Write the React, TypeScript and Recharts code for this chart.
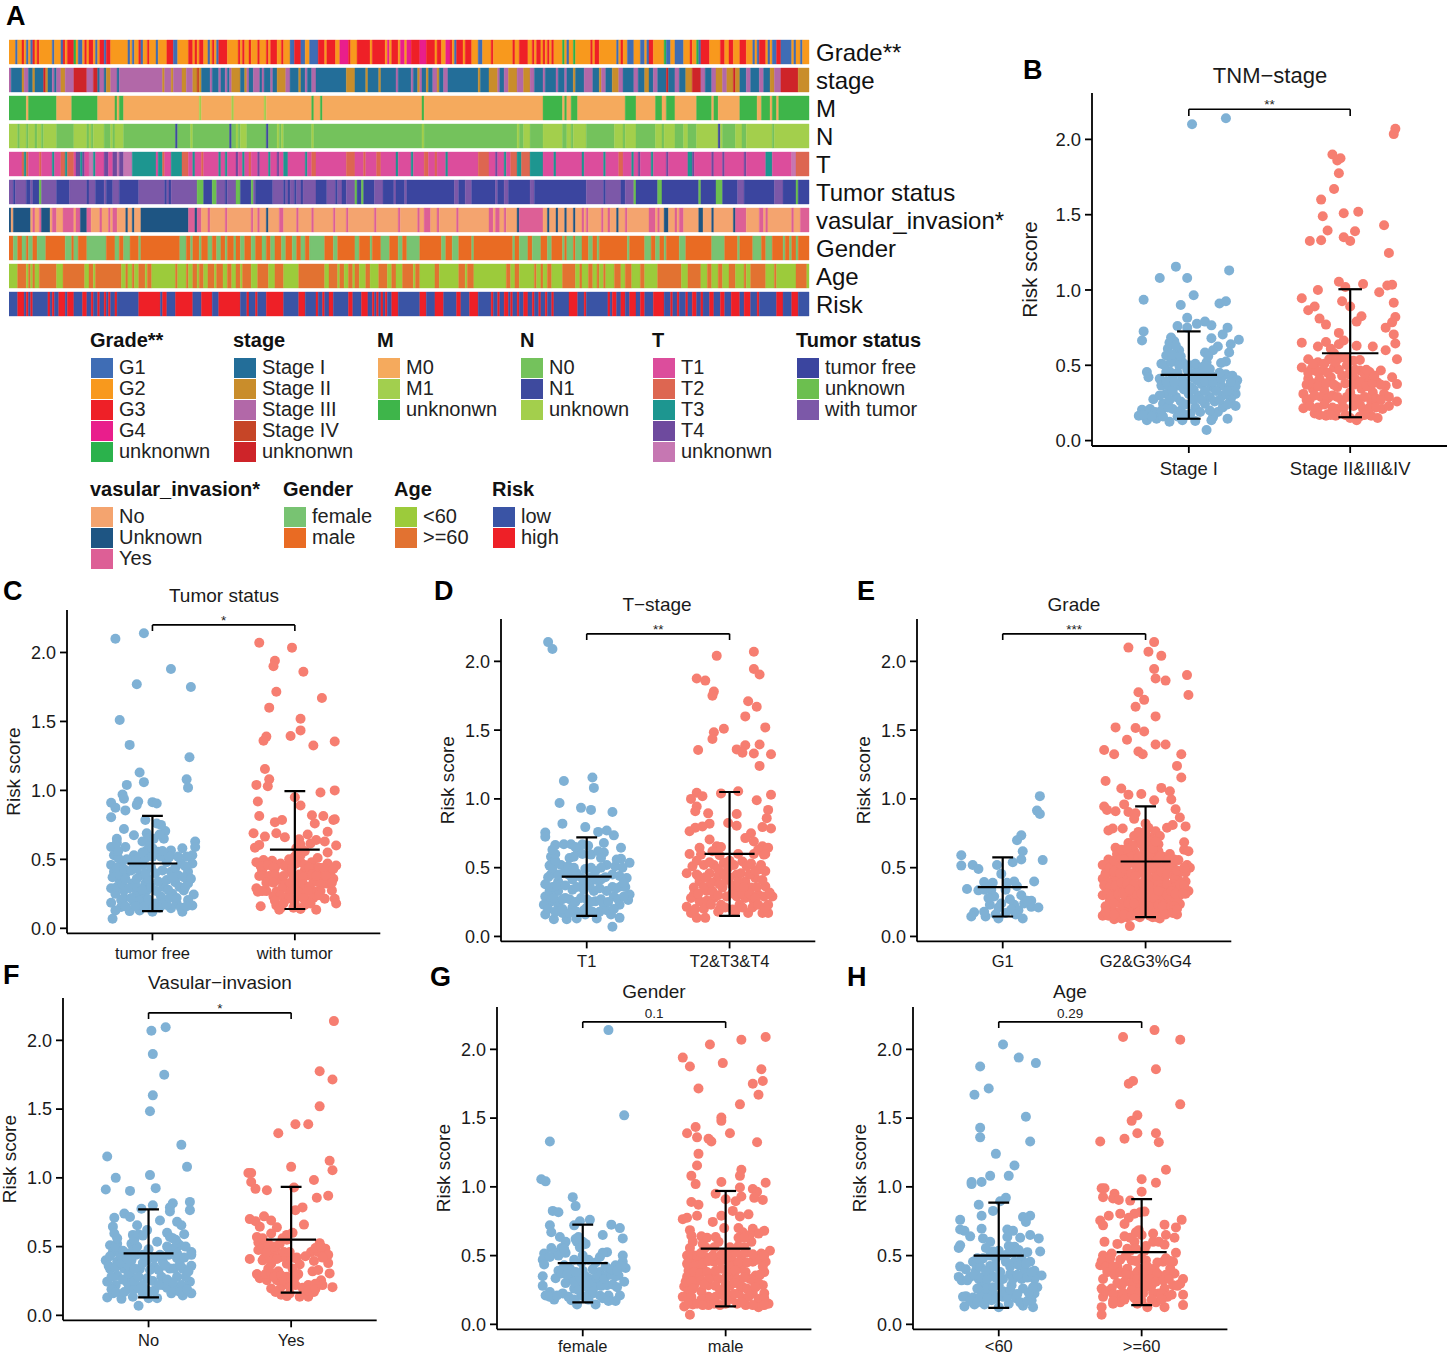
import {
  BarChart,
  Bar,
  Cell,
  XAxis,
  YAxis,
  ScatterChart,
  Scatter,
  ReferenceDot,
} from "recharts";

const FONT = "'Liberation Sans', Arial, sans-serif";
const BLUE = "#7FB1D5";
const SALMON = "#F67E71";

// ---------- heatmap: [class index, last sample of the run] ----------
const gradeRuns = [[1,3],[0,4],[1,6],[2,7],[1,8],[0,9],[1,10],[0,11],[2,12],[1,13],[2,14],[1,20],[0,21],[1,24],[0,25],[2,26],[1,27],[2,30],[4,31],[1,32],[0,34],[1,35],[2,36],[1,37],[2,39],[1,40],[0,41],[1,42],[2,44],[0,45],[2,47],[1,55],[0,56],[1,57],[0,58],[1,60],[2,61],[0,62],[1,64],[2,65],[1,68],[0,69],[1,73],[2,76],[0,78],[1,83],[2,85],[1,86],[2,87],[1,88],[2,90],[1,92],[0,93],[1,94],[2,95],[1,96],[0,97],[2,101],[1,106],[2,107],[1,108],[2,109],[1,111],[2,112],[1,115],[2,116],[1,119],[2,120],[1,121],[2,124],[1,126],[2,127],[1,130],[0,132],[2,135],[0,137],[1,139],[0,143],[2,146],[1,147],[2,151],[1,153],[3,157],[2,158],[1,161],[2,167],[1,168],[2,174],[1,175],[3,176],[1,177],[2,180],[1,181],[3,183],[1,184],[3,186],[2,190],[3,193],[2,197],[1,198],[2,200],[1,202],[3,204],[2,205],[1,206],[0,207],[2,210],[1,211],[2,214],[1,217],[0,219],[1,223],[2,224],[1,233],[2,234],[1,236],[2,240],[1,242],[2,243],[1,244],[2,246],[1,247],[2,248],[1,249],[2,250],[1,251],[2,252],[1,256],[4,257],[1,258],[0,259],[1,261],[4,262],[1,269],[2,270],[1,271],[2,273],[1,281],[0,282],[1,283],[2,284],[1,286],[0,289],[1,292],[0,294],[1,295],[0,296],[2,298],[1,303],[4,304],[0,306],[1,308],[0,312],[1,315],[2,316],[1,318],[4,319],[0,320],[2,324],[1,329],[2,331],[1,333],[2,335],[1,338],[2,341],[1,344],[0,345],[1,346],[0,347],[2,350],[1,351],[0,352],[1,353],[0,355],[2,357],[0,362],[1,363],[0,364],[1,366],[0,367],[1,370]];
const stageRuns = [[2,1],[0,6],[1,7],[2,9],[0,11],[1,12],[0,16],[4,17],[1,18],[0,20],[2,21],[0,22],[2,24],[1,26],[2,30],[4,36],[2,39],[4,41],[0,42],[2,44],[0,45],[1,47],[2,50],[0,51],[2,71],[1,72],[2,75],[1,76],[2,80],[1,82],[2,85],[1,87],[3,88],[1,89],[0,93],[2,94],[0,97],[2,98],[0,100],[2,101],[0,102],[2,103],[1,107],[0,109],[1,110],[2,111],[0,113],[2,116],[0,117],[2,118],[0,121],[2,122],[0,124],[1,128],[2,130],[0,134],[1,135],[0,137],[2,138],[0,140],[2,142],[0,156],[1,160],[0,165],[1,166],[0,171],[1,172],[0,179],[2,180],[0,186],[2,187],[0,189],[1,190],[2,191],[0,193],[1,194],[0,196],[2,198],[1,199],[0,201],[2,203],[0,217],[1,218],[0,222],[1,226],[2,227],[0,229],[2,231],[1,235],[2,238],[1,241],[2,243],[0,247],[2,248],[0,253],[2,254],[0,257],[2,258],[0,261],[1,262],[0,266],[2,270],[0,273],[1,274],[2,276],[0,279],[1,282],[2,284],[0,289],[2,291],[0,294],[1,296],[0,298],[2,300],[0,304],[4,305],[0,308],[2,310],[0,313],[1,316],[4,320],[2,322],[0,325],[2,327],[1,330],[2,332],[1,335],[4,336],[1,338],[0,341],[2,343],[0,347],[2,349],[0,352],[1,354],[2,357],[4,365],[1,370]];
const mRuns = [[2,8],[0,9],[2,22],[0,29],[2,41],[0,49],[2,50],[0,51],[2,53],[0,88],[1,89],[0,103],[1,104],[0,118],[1,119],[0,140],[2,141],[0,144],[2,145],[0,191],[2,192],[0,247],[2,256],[0,257],[2,258],[0,260],[2,263],[0,285],[2,290],[0,299],[2,302],[0,304],[2,308],[0,318],[2,325],[0,326],[2,328],[0,338],[2,346],[0,348],[2,352],[0,353],[2,355],[0,356],[2,370]];
const nRuns = [[2,4],[0,5],[2,8],[0,9],[2,12],[0,13],[2,15],[0,16],[2,22],[0,30],[2,36],[0,37],[2,38],[0,39],[2,44],[0,47],[2,48],[0,49],[2,53],[0,77],[1,78],[0,84],[2,85],[0,102],[1,103],[0,105],[2,106],[0,107],[2,110],[0,119],[1,120],[0,124],[2,125],[0,126],[2,127],[0,140],[2,141],[0,191],[2,192],[0,235],[2,236],[0,238],[2,241],[0,247],[2,256],[0,258],[2,260],[0,261],[2,267],[0,280],[2,284],[0,285],[2,290],[0,299],[2,302],[0,303],[2,308],[0,312],[2,314],[0,318],[2,328],[1,329],[2,330],[0,336],[2,339],[0,341],[2,353],[0,354],[2,370]];
const tRuns = [[0,6],[1,7],[2,8],[1,9],[0,14],[1,15],[0,20],[2,21],[0,24],[1,26],[2,27],[1,30],[0,31],[3,33],[2,34],[3,35],[0,37],[4,39],[2,40],[0,44],[3,46],[0,48],[3,50],[4,51],[3,53],[4,57],[2,68],[0,69],[2,71],[1,72],[0,75],[2,80],[1,83],[0,85],[2,86],[0,89],[1,90],[0,97],[2,98],[0,100],[2,101],[0,105],[3,106],[0,108],[2,109],[0,111],[1,112],[0,115],[3,116],[0,120],[2,121],[0,124],[3,125],[0,127],[2,129],[0,137],[2,138],[0,140],[1,142],[0,156],[1,160],[0,164],[1,165],[0,170],[1,172],[0,179],[2,180],[0,186],[2,187],[0,192],[1,194],[0,197],[1,198],[0,202],[2,203],[0,217],[1,222],[0,225],[3,226],[0,229],[2,230],[0,232],[1,235],[2,237],[1,241],[2,247],[0,252],[2,253],[0,265],[2,266],[0,275],[2,276],[0,282],[1,284],[0,288],[2,289],[0,291],[3,292],[0,297],[2,298],[0,304],[3,305],[0,314],[2,316],[3,317],[0,325],[3,326],[0,330],[3,331],[0,340],[3,341],[0,350],[2,353],[0,362],[4,364],[1,370]];
const statusRuns = [[2,2],[0,3],[2,8],[0,10],[2,11],[0,14],[1,15],[2,22],[0,28],[2,36],[0,37],[2,40],[0,44],[2,45],[0,48],[2,51],[0,60],[2,72],[0,73],[2,74],[0,75],[2,87],[1,90],[0,94],[1,96],[2,100],[0,101],[2,105],[1,107],[0,112],[1,113],[2,114],[0,122],[2,127],[0,128],[2,129],[0,130],[2,132],[0,133],[2,135],[0,136],[2,142],[0,147],[2,151],[0,152],[2,154],[0,156],[2,160],[1,161],[0,163],[1,164],[0,169],[2,173],[0,178],[2,179],[0,183],[2,184],[0,206],[2,208],[0,211],[2,214],[0,225],[2,226],[0,229],[2,231],[0,241],[2,243],[0,267],[2,275],[0,276],[2,283],[0,285],[2,289],[1,290],[0,300],[1,302],[0,319],[1,320],[0,327],[1,330],[0,337],[2,340],[0,354],[2,358],[0,364],[1,365],[0,370]];
const vascRuns = [[1,1],[0,2],[1,10],[0,11],[2,12],[0,14],[2,15],[1,19],[0,20],[2,22],[0,25],[2,30],[0,31],[2,33],[1,36],[2,38],[0,42],[2,43],[0,46],[2,47],[0,48],[2,50],[0,54],[1,55],[0,57],[1,58],[0,61],[1,83],[2,86],[1,87],[2,89],[0,92],[2,93],[0,100],[2,101],[0,112],[2,113],[0,115],[2,116],[0,119],[1,120],[0,125],[2,127],[0,133],[2,134],[0,140],[2,141],[0,150],[2,151],[0,156],[2,157],[0,169],[2,170],[0,180],[2,181],[0,189],[2,190],[0,192],[2,195],[0,198],[2,199],[0,207],[2,208],[0,222],[2,224],[0,225],[2,227],[0,229],[2,230],[0,235],[1,236],[2,247],[0,249],[1,250],[0,253],[1,254],[0,257],[1,258],[0,261],[1,262],[0,265],[2,266],[0,267],[2,268],[0,274],[2,275],[0,277],[2,278],[0,281],[1,282],[0,285],[2,286],[0,296],[2,299],[0,300],[2,301],[0,303],[1,305],[0,308],[2,309],[0,310],[2,312],[0,319],[1,321],[0,325],[1,326],[0,335],[1,336],[2,341],[0,347],[2,349],[0,350],[2,351],[0,362],[2,363],[0,366],[2,370]];
const genderRuns = [[1,2],[0,4],[1,6],[0,8],[1,9],[0,11],[1,13],[0,17],[1,26],[0,29],[1,30],[0,32],[1,36],[0,45],[1,49],[0,51],[1,53],[0,56],[1,60],[0,61],[1,79],[0,82],[1,84],[0,85],[1,88],[0,89],[1,92],[0,94],[1,96],[0,98],[1,100],[0,101],[1,104],[0,105],[1,107],[0,109],[1,112],[0,114],[1,117],[0,119],[1,121],[0,123],[1,126],[0,128],[1,131],[0,133],[1,135],[0,137],[1,139],[0,146],[1,150],[0,152],[1,160],[0,162],[1,167],[0,168],[1,172],[0,176],[1,180],[0,182],[1,184],[0,190],[1,200],[0,202],[1,205],[0,208],[1,214],[0,215],[1,233],[0,234],[1,236],[0,240],[1,242],[0,246],[1,249],[0,251],[1,256],[0,257],[1,258],[0,261],[1,262],[0,265],[1,268],[0,270],[1,272],[0,273],[1,286],[0,287],[1,294],[0,297],[1,299],[0,301],[1,303],[0,304],[1,310],[0,313],[1,325],[0,331],[1,337],[0,338],[1,344],[0,348],[1,350],[0,353],[1,358],[0,359],[1,361],[0,362],[1,364],[0,365],[1,370]];
const ageRuns = [[0,4],[1,8],[0,9],[1,10],[0,11],[1,12],[0,14],[1,22],[0,25],[1,35],[0,37],[1,39],[0,40],[1,52],[0,54],[1,55],[0,57],[1,58],[0,60],[1,63],[0,64],[1,66],[0,77],[1,78],[0,82],[1,83],[0,85],[1,87],[0,88],[1,90],[0,92],[1,95],[0,96],[1,99],[0,101],[1,103],[0,105],[1,107],[0,108],[1,112],[0,115],[1,120],[0,123],[1,127],[0,134],[1,146],[0,148],[1,152],[0,153],[1,155],[0,157],[1,159],[0,160],[1,162],[0,165],[1,167],[0,171],[1,175],[0,177],[1,179],[0,182],[1,187],[0,188],[1,190],[0,197],[1,199],[0,208],[1,211],[0,212],[1,215],[0,230],[1,232],[0,234],[1,236],[0,243],[1,244],[0,246],[1,247],[0,249],[1,251],[0,256],[1,262],[0,264],[1,265],[0,268],[1,270],[0,272],[1,273],[0,275],[1,276],[0,280],[1,283],[0,285],[1,288],[0,292],[1,294],[0,300],[1,311],[0,314],[1,320],[0,323],[1,325],[0,328],[1,330],[0,333],[1,336],[0,340],[1,341],[0,343],[1,350],[0,354],[1,355],[0,364],[1,369],[0,370]];
const riskRuns = [[0,4],[1,7],[0,8],[1,9],[0,10],[1,11],[0,18],[1,19],[0,20],[1,21],[0,23],[1,26],[0,27],[1,30],[0,34],[1,36],[0,38],[1,39],[0,41],[1,42],[0,44],[1,45],[0,46],[1,47],[0,49],[1,50],[0,60],[1,70],[0,71],[1,73],[0,77],[1,85],[0,89],[1,94],[0,97],[1,107],[0,110],[1,111],[0,114],[1,115],[0,119],[1,127],[0,134],[1,137],[0,142],[1,143],[0,145],[1,146],[0,148],[1,150],[0,157],[1,159],[0,163],[1,166],[0,168],[1,169],[0,170],[1,171],[0,172],[1,173],[0,174],[1,175],[0,177],[1,180],[0,190],[1,193],[0,197],[1,201],[0,207],[1,209],[0,213],[1,217],[0,223],[1,224],[0,226],[1,227],[0,229],[1,231],[0,232],[1,233],[0,235],[1,236],[0,238],[1,240],[0,242],[1,243],[0,245],[1,246],[0,248],[1,249],[0,251],[1,252],[0,259],[1,263],[0,266],[1,267],[0,277],[1,278],[0,279],[1,281],[0,283],[1,285],[0,287],[1,290],[0,292],[1,294],[0,298],[1,303],[0,306],[1,307],[0,309],[1,310],[0,313],[1,314],[0,316],[1,318],[0,320],[1,321],[0,324],[1,326],[0,329],[1,331],[0,334],[1,338],[0,340],[1,343],[0,346],[1,347],[0,355],[1,358],[0,362],[1,365],[0,370]];

const gradeColors = ["#3F6DB5", "#F8991D", "#EE2027", "#E91E8C", "#2BB24C"];
const stageColors = ["#236E99", "#C98D2B", "#B268A8", "#C64527", "#CE2429"];
const mColors = ["#F5AA5D", "#A2CF4E", "#3EB54A"];
const nColors = ["#74C25C", "#3E4A9E", "#A3CF4C"];
const tColors = ["#DC4D9C", "#DD6651", "#1D9690", "#6E4A9E", "#C677B2"];
const statusColors = ["#3B459F", "#6CBF4F", "#7C58A8"];
const vascColors = ["#F4A46F", "#1E5583", "#DD5F96"];
const genderColors = ["#78C372", "#E96B23"];
const ageColors = ["#9CCB3B", "#E27231"];
const riskColors = ["#3A54A5", "#EE2027"];

const tracks = [
  { name: "Grade**", runs: gradeRuns, colors: gradeColors },
  { name: "stage", runs: stageRuns, colors: stageColors },
  { name: "M", runs: mRuns, colors: mColors },
  { name: "N", runs: nRuns, colors: nColors },
  { name: "T", runs: tRuns, colors: tColors },
  { name: "Tumor status", runs: statusRuns, colors: statusColors },
  { name: "vasular_invasion*", runs: vascRuns, colors: vascColors },
  { name: "Gender", runs: genderRuns, colors: genderColors },
  { name: "Age", runs: ageRuns, colors: ageColors },
  { name: "Risk", runs: riskRuns, colors: riskColors },
];

const heatRows = tracks.map((t) => {
  const row: Record<string, number | string> = { track: t.name };
  let prev = 0;
  t.runs.forEach(([, end], i) => {
    row[`r${i}`] = end - prev;
    prev = end;
  });
  return row;
});
const maxRuns = Math.max(...tracks.map((t) => t.runs.length));

// ---------- risk score points: [group position, score] ----------
const bLow = [[1.02,2.1],[1.23,2.14],[.92,1.155],[.82,1.08],[.99,1.08],[1.25,1.13],[.72,.935],[1.03,.965],[.95,.9],[1.19,.91],[1.23,.925],[.99,.815],[.93,.76],[.99,.75],[1.05,.775],[1.1,.79],[1.14,.765],[1.24,.75],[.72,.725],[.71,.665],[1.21,.705],[1.31,.67],[.89,.685],[.91,.66],[1.14,.68],[1.18,.625],[1.26,.64],[1.25,.585],[1.1,.585],[1.15,.6],[.87,.61],[.94,.6],[.86,.565],[.92,.54],[.96,.52],[1.23,.525],[1.2,.515],[.83,.51],[1.11,.52],[1.07,.485],[1.13,.475],[.74,.455],[.75,.42],[.86,.455],[.82,.41],[.9,.43],[.96,.41],[1.04,.455],[1.11,.43],[1.17,.41],[1.23,.44],[1.27,.43],[1.3,.4],[.83,.365],[.88,.355],[.94,.365],[1.01,.355],[1.08,.375],[1.14,.355],[1.2,.365],[1.25,.355],[1.29,.31],[.78,.275],[.86,.31],[.92,.29],[1,.31],[1.06,.3],[1.13,.29],[1.21,.3],[1.26,.275],[1.29,.23],[.71,.205],[.76,.21],[.84,.245],[.9,.21],[.95,.2],[1.04,.22],[1.1,.245],[1.18,.19],[1.15,.155],[1.24,.145],[.69,.165],[.74,.135],[.8,.145],[.88,.125],[.96,.135],[1.04,.13],[1.11,.07],[1.14,.135]];
const bLowFill = [[.75,.19],[.79,.19],[.83,.2],[.87,.22],[.93,.16],[.98,.17],[1.01,.18],[1.07,.19],[1.13,.2],[1.21,.22],[1.24,.24],[.72,.17],[.77,.16],[.84,.16],[.88,.27],[.95,.26],[.98,.24],[1.03,.27],[1.08,.27],[1.16,.26],[1.19,.27],[1.23,.31],[.82,.3],[.9,.33],[.97,.34],[1.03,.34],[1.1,.33],[1.17,.33],[1.24,.33],[1.29,.36],[.86,.39],[.91,.39],[.98,.38],[1.05,.4],[1.1,.39],[1.15,.39],[1.2,.41],[1.26,.39],[.88,.46],[.93,.45],[.99,.47],[1.02,.42],[1.08,.44],[1.14,.43],[1.19,.45],[.85,.5],[.89,.52],[.94,.5],[1,.5],[1.04,.51],[1.09,.49],[.9,.57],[.95,.56],[1.12,.56],[.88,.65],[.92,.63]];
const bHigh = [[2.28,2.07],[2.27,2.035],[1.89,1.9],[1.94,1.875],[1.92,1.86],[1.93,1.775],[1.9,1.67],[1.82,1.6],[1.83,1.49],[1.96,1.51],[2.05,1.52],[2.21,1.43],[1.86,1.395],[2.03,1.39],[1.96,1.35],[2,1.325],[1.75,1.325],[1.82,1.33],[2.24,1.245],[1.93,1.055],[1.97,1.02],[2.08,1.04],[2.23,1.03],[2.26,1.035],[1.8,1],[2.18,.985],[1.7,.945],[1.95,.925],[2.27,.915],[2,.89],[1.78,.89],[1.74,.865],[1.81,.81],[2.07,.825],[2.04,.79],[2.28,.82],[2.26,.785],[1.85,.77],[2.22,.75],[1.93,.715],[2.27,.705],[1.7,.65],[1.85,.655],[1.8,.625],[1.93,.64],[1.96,.665],[2.04,.63],[2.14,.625],[2.28,.645],[2.22,.6],[1.88,.61],[2.29,.54],[2.06,.535],[1.74,.54],[1.8,.52],[1.87,.54],[1.94,.55],[1.7,.485],[1.76,.475],[1.83,.465],[1.9,.485],[1.98,.5],[2.06,.465],[2.12,.455],[2.19,.465],[2.26,.42],[1.74,.41],[1.81,.41],[1.88,.42],[1.95,.43],[2.03,.41],[2.1,.4],[2.17,.385],[2.29,.375],[2.22,.365],[1.71,.31],[1.77,.34],[1.84,.33],[1.92,.355],[2,.32],[2.07,.345],[2.14,.32],[2.21,.31],[1.75,.275],[1.82,.29],[1.95,.265],[2.05,.275],[2.13,.265],[2.29,.26],[2.24,.29],[1.71,.215],[1.78,.18],[1.86,.175],[1.92,.21],[2.08,.21],[2.2,.21],[2.13,.165],[2.17,.15],[1.85,.165],[2.04,.135],[1.91,.165]];
const bHighFill = [[1.73,.37],[1.77,.38],[1.8,.36],[1.85,.38],[1.9,.37],[1.97,.38],[2.02,.37],[2.06,.39],[2.1,.36],[2.14,.38],[2.19,.37],[1.73,.27],[1.78,.3],[1.86,.28],[1.89,.3],[1.92,.29],[1.98,.29],[2.02,.28],[2.09,.29],[2.16,.28],[2.19,.27],[1.75,.23],[1.8,.22],[1.84,.24],[1.89,.22],[1.96,.22],[2.02,.23],[2.06,.24],[2.12,.22],[2.16,.22],[2.24,.23],[1.81,.17],[1.88,.17],[1.97,.17],[2.06,.16],[2.09,.17],[2,.15],[1.74,.45],[1.79,.46],[1.86,.45],[1.93,.47],[1.99,.44],[2.03,.47],[2.09,.44],[2.15,.43],[1.77,.51],[1.84,.51],[1.91,.52],[1.97,.55],[2.02,.53],[2.1,.47],[1.9,.58]];
const cLow = [[.74,2.1],[.94,2.14],[1.13,1.88],[.89,1.77],[1.27,1.75],[.77,1.51],[.84,1.33],[1.26,1.24],[.91,1.13],[1.24,1.08],[.94,1.06],[.82,1.04],[1.25,1.02],[.79,.97],[.8,.94],[.71,.91],[.74,.875],[.81,.855],[.9,.92],[.89,.895],[1,.915],[1.03,.905],[.71,.805],[.95,.785],[1.03,.76],[.8,.72],[.87,.675],[1.09,.705],[1.06,.75],[1.08,.65],[.96,.69],[.97,.65],[.75,.65],[.71,.59],[.81,.59],[.73,.53],[1.3,.63],[1.3,.59],[1.21,.58],[1.13,.565],[.96,.565],[1.04,.555],[.93,.63],[1.28,.53],[.87,.53],[1.28,.47],[.71,.46],[.78,.47],[.86,.48],[.93,.46],[1.02,.4],[1.1,.48],[1.2,.47],[1.25,.41],[.73,.41],[.82,.41],[.92,.385],[1.13,.41],[1.18,.385],[.71,.29],[.77,.35],[.86,.325],[.95,.325],[1.08,.3],[1.16,.335],[1.25,.325],[.8,.275],[.89,.25],[.96,.275],[1.06,.23],[1.14,.25],[1.22,.275],[1.29,.245],[.71,.185],[.78,.205],[.87,.19],[.94,.23],[1.08,.18],[1.17,.18],[1.25,.205],[1.28,.165],[.78,.155],[.84,.125],[.91,.13],[.97,.155],[1,.12],[1.13,.145],[1.21,.12],[.72,.07]];
const cLowFill = [[.74,.25],[.8,.22],[.85,.22],[.91,.2],[.97,.21],[1.02,.18],[1.05,.15],[1.1,.17],[1.12,.22],[1.17,.22],[1.2,.15],[1.24,.16],[.74,.13],[.81,.16],[.88,.16],[.94,.16],[.75,.3],[.79,.32],[.84,.29],[.89,.3],[.93,.28],[.99,.3],[1.03,.27],[1.11,.28],[1.19,.3],[1.23,.3],[.72,.37],[.77,.39],[.81,.36],[.89,.36],[.97,.36],[1.04,.34],[1.1,.35],[1.14,.37],[1.22,.37],[1.27,.36],[.75,.44],[.8,.43],[.85,.42],[.89,.43],[.95,.4],[.99,.44],[1.07,.42],[1.16,.44],[1.23,.45],[.76,.51],[.82,.5],[.89,.5],[.95,.51],[1,.52],[1.06,.52],[1.12,.52],[1.18,.52],[1.24,.52],[.76,.56],[.98,.6],[1,.58],[1.07,.56],[.93,.55],[.75,.62],[1.01,.65],[1.05,.68]];
const cHigh = [[1.75,2.07],[1.98,2.035],[1.86,1.94],[1.85,1.9],[2.06,1.86],[1.87,1.715],[2.19,1.67],[1.82,1.6],[2.04,1.52],[2.04,1.435],[1.97,1.395],[1.8,1.39],[1.78,1.36],[2.28,1.355],[2.13,1.325],[1.79,1.155],[1.82,1.08],[1.81,1.03],[1.73,1.04],[2.18,.985],[2.28,1],[2,.95],[1.74,.92],[2.04,.89],[1.75,.815],[2.12,.82],[2.2,.815],[2.27,.785],[2.28,.79],[1.86,.77],[1.91,.785],[2.14,.76],[1.87,.69],[1.71,.69],[1.79,.665],[2.23,.7],[1.93,.66],[2.09,.68],[2.03,.645],[2.15,.64],[2.21,.63],[1.75,.605],[1.72,.585],[2.29,.6],[2.04,.605],[2.11,.615],[2.23,.55],[2.04,.53],[1.73,.48],[1.78,.495],[1.84,.49],[1.9,.47],[2.04,.48],[2.12,.48],[2.23,.47],[2.29,.455],[1.77,.42],[1.86,.435],[1.96,.41],[2.07,.42],[2.15,.435],[2.25,.41],[1.79,.375],[1.89,.35],[1.99,.375],[2.09,.385],[2.18,.375],[2.27,.36],[1.93,.325],[2.03,.325],[2.13,.335],[2.22,.325],[1.74,.265],[1.8,.27],[1.87,.265],[1.96,.265],[2.06,.275],[2.14,.265],[2.26,.275],[1.85,.23],[1.95,.215],[2.02,.23],[2.09,.205],[2.21,.215],[2.28,.215],[1.76,.16],[1.87,.165],[1.9,.145],[2.04,.14],[2.15,.135],[2.29,.18],[1.89,.135],[2,.18]];
const cHighFill = [[1.76,.45],[1.81,.46],[1.85,.44],[1.93,.45],[1.98,.44],[2.01,.47],[2.07,.46],[2.1,.44],[2.17,.44],[2.2,.44],[2.27,.43],[1.75,.38],[1.82,.38],[1.86,.39],[1.92,.38],[2.03,.39],[2.06,.37],[2.12,.39],[2.15,.38],[2.22,.38],[1.8,.33],[1.85,.33],[1.97,.33],[2,.31],[2.06,.32],[2.1,.3],[2.18,.32],[2.26,.33],[1.91,.29],[2,.28],[2.03,.26],[2.09,.27],[2.18,.27],[1.9,.24],[1.96,.22],[2.06,.22],[2.13,.22],[2.17,.24],[1.86,.2],[1.92,.18],[2.07,.17],[2.11,.18],[1.99,.15],[1.77,.27],[1.73,.29],[2.01,.58],[2.07,.56],[2,.52],[2.16,.51],[1.96,.5]];
const dLow = [[.73,2.14],[.76,2.09],[1.04,1.155],[.84,1.13],[1.05,1.08],[.81,.97],[.96,.935],[1.03,.92],[1.18,.905],[.83,.82],[.99,.795],[.71,.755],[.71,.725],[1.08,.76],[1.14,.77],[1.19,.735],[1.12,.68],[.78,.665],[.84,.67],[.89,.67],[.97,.67],[1.24,.645],[1.12,.61],[.75,.58],[1.03,.595],[.88,.57],[.94,.62],[1.24,.565],[1.3,.535],[.74,.515],[.82,.52],[1.14,.52],[1.25,.5],[.75,.45],[.84,.46],[1.06,.475],[1.28,.425],[1.18,.45],[.71,.38],[.8,.4],[.9,.415],[.98,.39],[1.1,.415],[1.24,.365],[.71,.29],[.8,.33],[.9,.34],[1.05,.33],[1.14,.33],[1.3,.305],[.75,.255],[.85,.28],[.96,.28],[1.06,.255],[1.19,.29],[1.29,.265],[.7,.23],[.8,.23],[.9,.21],[1,.21],[1.12,.23],[1.23,.23],[.71,.16],[.77,.125],[.86,.125],[.93,.13],[.99,.16],[1.07,.13],[1.17,.16],[1.23,.135],[.83,.17],[1.18,.07]];
const dLowFill = [[.73,.2],[.78,.18],[.83,.2],[.88,.17],[.93,.18],[.98,.19],[1.04,.18],[1.09,.18],[1.14,.19],[1.19,.2],[.74,.33],[.77,.28],[.83,.27],[.88,.27],[.92,.25],[1,.27],[1.03,.25],[1.1,.27],[1.15,.25],[1.22,.27],[1.26,.29],[.76,.36],[.79,.37],[.85,.37],[.93,.36],[.98,.34],[1.02,.37],[1.09,.35],[1.18,.36],[1.21,.35],[1.27,.36],[.73,.43],[.8,.45],[.87,.45],[.93,.46],[.96,.43],[1.03,.43],[1.07,.41],[1.13,.43],[1.23,.44],[1.26,.39],[.76,.5],[.78,.55],[.87,.51],[.91,.5],[.99,.49],[1.03,.5],[1.1,.5],[1.2,.51],[.78,.6],[.76,.63],[.91,.58],[.97,.6],[1.01,.66],[1.08,.62],[1.1,.57],[1.21,.56],[.92,.65]];
const dHigh = [[1.91,2.04],[2.17,2.07],[2.17,1.945],[2.21,1.905],[1.77,1.875],[1.83,1.86],[1.89,1.78],[1.88,1.75],[2.13,1.71],[2.19,1.67],[2.11,1.6],[2.25,1.52],[1.96,1.51],[1.89,1.485],[1.88,1.435],[2.11,1.39],[2.21,1.395],[1.78,1.355],[2.05,1.36],[2.09,1.335],[2.17,1.33],[2.29,1.325],[2.21,1.24],[2.29,1.03],[1.77,1.045],[1.81,1.02],[1.94,1.04],[2.06,1.055],[1.73,1],[2.19,.99],[1.77,.945],[1.76,.91],[2.27,.92],[1.85,.895],[2.05,.89],[2.26,.86],[1.99,.825],[1.86,.82],[1.81,.8],[2.05,.805],[1.76,.79],[1.72,.765],[2.23,.795],[2.29,.785],[2.15,.75],[1.86,.705],[2.11,.715],[2.17,.69],[1.79,.645],[1.91,.655],[2.23,.655],[2.27,.645],[1.72,.6],[2.06,.6],[2.24,.595],[1.8,.595],[1.74,.51],[1.82,.52],[1.89,.52],[2.09,.545],[1.96,.535],[1.7,.46],[1.77,.45],[1.86,.46],[2.05,.45],[2.2,.485],[2.25,.475],[1.79,.4],[1.9,.4],[2.11,.4],[2.18,.425],[1.75,.355],[1.84,.33],[1.95,.355],[2.07,.355],[2.15,.355],[2.25,.365],[1.75,.305],[1.89,.28],[2.02,.315],[2.11,.28],[2.2,.305],[2.3,.29],[1.7,.215],[1.79,.255],[1.94,.23],[2.07,.23],[2.17,.255],[2.27,.23],[1.73,.17],[1.77,.135],[1.83,.135],[1.93,.195],[2.02,.195],[2.13,.17],[2.23,.17],[2.27,.17]];
const dHighFill = [[1.73,.28],[1.78,.31],[1.84,.26],[1.88,.33],[1.92,.3],[1.98,.29],[2.05,.29],[2.09,.31],[2.14,.31],[2.18,.28],[2.24,.29],[2.28,.32],[1.76,.2],[1.82,.2],[1.87,.23],[1.92,.18],[1.97,.21],[2.04,.18],[2.09,.21],[2.16,.21],[2.2,.23],[2.25,.21],[1.82,.36],[1.87,.39],[1.93,.38],[1.98,.41],[2.02,.37],[2.06,.4],[2.1,.36],[2.19,.36],[2.23,.41],[1.78,.44],[1.83,.43],[1.92,.44],[1.96,.46],[2,.43],[2.08,.46],[2.14,.45],[2.18,.48],[1.77,.55],[1.86,.54],[1.92,.49],[1.99,.5],[2.03,.52],[2.12,.51],[2.15,.53],[2.22,.52],[1.88,.62],[1.93,.59],[2,.55],[2.17,.6],[2.2,.63],[2.25,.6],[1.94,.65]];
const eLow = [[1.26,1.02],[1.24,.915],[1.26,.89],[1.13,.735],[1.1,.7],[1.14,.62],[.71,.59],[.71,.515],[.79,.52],[.83,.49],[1.28,.555],[1.13,.56],[1.07,.54],[.96,.52],[.99,.455],[.75,.345],[.83,.335],[.87,.395],[.93,.39],[1.08,.4],[1.22,.4],[1.1,.365],[.92,.34],[1.02,.34],[.94,.29],[1.13,.3],[1.2,.26],[.91,.23],[1.08,.23],[1.2,.215],[1.25,.21],[.97,.21],[1.11,.19],[.8,.175],[.78,.145],[.88,.145],[.97,.13],[1.06,.195],[1.14,.13]];
const eLowFill = [[.87,.34],[.9,.28],[.99,.24],[1.05,.27],[1.15,.24],[1.17,.26],[.87,.18],[.95,.16],[1.02,.17],[1.09,.16],[.91,.36],[1.03,.39]];
const eHigh = [[2.06,2.14],[1.88,2.1],[2.02,2.07],[2.11,2.04],[2.06,1.945],[2.29,1.9],[2.07,1.875],[2.14,1.86],[1.95,1.775],[2.3,1.755],[1.99,1.72],[1.93,1.67],[2.07,1.6],[1.79,1.52],[1.93,1.515],[1.99,1.49],[1.87,1.43],[2.07,1.395],[2.14,1.395],[1.71,1.355],[1.95,1.345],[1.98,1.325],[1.78,1.325],[2.25,1.325],[2.22,1.24],[2.25,1.155],[1.72,1.13],[2.11,1.08],[1.83,1.075],[2.17,1.055],[1.88,1.03],[1.97,1.035],[2.18,.995],[2.06,.99],[1.85,.96],[1.71,.945],[1.73,.92],[1.79,.91],[2.21,.925],[1.88,.905],[1.93,.895],[1.92,.855],[2.24,.865],[2.28,.8],[2.19,.81],[2.15,.79],[1.84,.785],[1.77,.785],[1.74,.77],[2.02,.79],[2.07,.765],[2,.82],[1.92,.73],[1.99,.755],[2.1,.73],[2.27,.685],[1.88,.68],[1.95,.68],[2.02,.67],[2.09,.67],[2.27,.63],[1.79,.645],[2.3,.62],[1.92,.62],[1.99,.62],[2.09,.62],[2.17,.6],[1.8,.6],[1.87,.59],[1.74,.56],[1.7,.52],[1.81,.52],[1.9,.535],[2.04,.55],[2.14,.52],[2.23,.555],[2.29,.52],[2.31,.5],[1.73,.49],[1.85,.475],[1.96,.465],[2.07,.475],[2.18,.475],[2.28,.465],[1.7,.42],[1.78,.42],[1.89,.41],[2.02,.42],[2.13,.41],[2.23,.41],[1.72,.36],[1.82,.36],[1.94,.345],[2.07,.36],[2.17,.345],[2.3,.33],[1.7,.3],[1.78,.29],[1.88,.29],[2,.29],[2.11,.29],[2.23,.29],[2.28,.31],[1.74,.22],[1.83,.235],[1.94,.22],[2.04,.22],[2.15,.22],[2.24,.235],[1.7,.15],[1.78,.125],[1.83,.13],[1.89,.075],[1.79,.175],[1.92,.17],[2,.17],[2.1,.13],[2.22,.16],[2.17,.18],[2.08,.17],[1.72,.52],[1.76,.46],[1.8,.5],[1.84,.44],[1.87,.52],[1.9,.4],[1.94,.5],[1.98,.46],[2.01,.5],[2.05,.41],[2.09,.5],[2.12,.44],[2.16,.5],[2.2,.43],[2.25,.47],[2.28,.4],[1.73,.4],[1.77,.33],[1.8,.4],[1.86,.34],[1.91,.3],[1.96,.38],[1.99,.34],[2.04,.31],[2.09,.38],[2.13,.33],[2.19,.38],[2.25,.35],[1.75,.26],[1.8,.25],[1.85,.25],[1.9,.26],[1.97,.25],[2.02,.25],[2.07,.25],[2.12,.26],[2.18,.27],[2.21,.26],[1.76,.18],[1.82,.18],[1.88,.2],[1.95,.18],[2.02,.19],[2.06,.19],[2.13,.19],[1.74,.15],[1.87,.14],[1.96,.14],[2.05,.14],[1.9,.58],[1.95,.58],[2,.58],[2.06,.59],[2.12,.58],[1.96,.72],[2.03,.72],[1.91,.66],[1.98,.66]];
const eHighFill = [[1.72,.46],[1.75,.5],[1.78,.47],[1.82,.46],[1.86,.49],[1.9,.46],[1.93,.44],[1.96,.52],[2.01,.45],[2.05,.5],[2.08,.44],[2.11,.47],[2.15,.45],[2.19,.52],[2.22,.48],[2.27,.5],[1.71,.37],[1.75,.36],[1.79,.37],[1.83,.39],[1.87,.38],[1.92,.38],[1.98,.39],[2.02,.37],[2.06,.33],[2.11,.35],[2.15,.38],[2.21,.36],[2.24,.38],[2.27,.37],[1.73,.31],[1.76,.29],[1.81,.31],[1.84,.31],[1.89,.34],[1.94,.3],[1.97,.31],[2.03,.28],[2.06,.28],[2.09,.33],[2.15,.3],[2.18,.33],[2.21,.31],[2.26,.31],[1.72,.22],[1.78,.24],[1.85,.21],[1.88,.24],[1.92,.24],[1.99,.22],[2.02,.22],[2.09,.23],[2.12,.22],[2.18,.22],[2.2,.22],[1.72,.18],[1.78,.16],[1.85,.16],[1.9,.15],[1.94,.15],[1.99,.19],[2.03,.15],[2.08,.14],[2.14,.16],[2.19,.17],[2.22,.2],[1.78,.55],[1.83,.57],[1.85,.56],[1.98,.55],[2.01,.6],[2.03,.6],[2.08,.55],[2.1,.58],[2.16,.56],[2.2,.56],[1.83,.63],[1.87,.64],[2,.66],[2.05,.64],[1.97,.7],[2.05,.7],[2.07,.69],[1.95,.76],[2,.75]];
const fLow = [[1.02,2.07],[1.12,2.095],[1.03,1.9],[1.11,1.75],[1.03,1.6],[1.01,1.485],[1.23,1.24],[.71,1.155],[1.27,1.08],[.77,1],[1.01,1.02],[.7,.915],[.87,.905],[1.05,.925],[1.29,.825],[1.17,.815],[1.15,.785],[1.03,.8],[1.29,.765],[.95,.775],[.83,.74],[1.15,.755],[1.08,.69],[.76,.71],[.87,.715],[1.2,.68],[1.23,.655],[.75,.645],[.92,.655],[.76,.595],[.99,.62],[1.25,.59],[1.13,.6],[.89,.585],[1.17,.56],[1.06,.535],[.73,.51],[.78,.52],[.88,.52],[1.22,.51],[1.3,.46],[1.17,.485],[.75,.46],[.7,.4],[.86,.45],[1.3,.44],[.78,.39],[.88,.4],[.99,.4],[1.1,.39],[1.2,.415],[1.3,.36],[.73,.34],[.83,.34],[.94,.34],[1.04,.355],[1.15,.34],[1.24,.34],[.71,.245],[.78,.29],[.88,.28],[.99,.27],[1.09,.28],[1.2,.28],[1.29,.245],[.77,.22],[.86,.195],[.96,.22],[1.1,.22],[1.23,.22],[.71,.13],[.81,.12],[.89,.135],[1,.125],[1.06,.125],[1.16,.16],[1.24,.145],[1.3,.16],[.93,.07],[.75,.16],[.96,.16]];
const fLowFill = [[.74,.19],[.77,.17],[.83,.17],[.85,.24],[.9,.19],[.93,.2],[.99,.18],[1.04,.18],[1.13,.2],[1.19,.19],[1.22,.17],[1.27,.19],[.74,.28],[.82,.26],[.86,.3],[.9,.25],[.93,.28],[1.03,.25],[1.07,.22],[1.13,.26],[1.17,.24],[1.26,.28],[.72,.36],[.77,.35],[.81,.38],[.86,.36],[.9,.34],[.96,.38],[1.01,.33],[1.07,.33],[1.12,.36],[1.18,.34],[1.22,.37],[1.28,.32],[.73,.43],[.8,.44],[.85,.41],[.91,.44],[.96,.44],[1.04,.42],[1.08,.44],[1.14,.44],[1.2,.45],[1.25,.42],[.77,.5],[.82,.47],[.89,.47],[.92,.5],[1,.48],[1.13,.5],[1.2,.53],[1.26,.5],[.9,.55],[.93,.59],[.96,.58],[1.15,.57],[.78,.56],[1.19,.55]];
const fHigh = [[2.3,2.14],[2.2,1.775],[2.29,1.715],[2.2,1.52],[2.03,1.39],[2.12,1.39],[1.91,1.325],[2.27,1.125],[2.29,1.055],[2,1.08],[1.7,1.035],[1.72,1.035],[1.72,.97],[1.75,.92],[1.83,.91],[2.16,.985],[2.02,.93],[2.18,.855],[2.26,.87],[2.08,.785],[2.03,.765],[1.71,.7],[1.75,.685],[1.81,.72],[1.86,.69],[1.78,.645],[1.9,.64],[2.09,.66],[1.86,.595],[1.97,.585],[1.77,.53],[1.81,.52],[2.2,.525],[1.94,.56],[1.77,.475],[1.87,.455],[2.24,.485],[2.14,.46],[2.26,.44],[1.71,.41],[1.81,.415],[1.93,.425],[2.03,.415],[2.16,.395],[2.26,.38],[1.86,.375],[1.97,.375],[1.76,.3],[1.84,.34],[1.91,.32],[2.01,.34],[2.15,.32],[2.19,.33],[2.27,.305],[1.83,.255],[1.9,.255],[1.97,.28],[2.21,.255],[1.94,.22],[1.86,.195],[2.03,.22],[2.12,.22],[2.17,.23],[2.29,.205],[1.93,.15],[2.06,.135],[2.12,.135],[2.16,.17],[1.99,.16],[2.09,.185]];
const fHighFill = [[1.78,.27],[1.82,.3],[1.86,.31],[1.88,.28],[1.93,.29],[1.95,.25],[1.99,.21],[1.92,.19],[2,.27],[2.05,.3],[2.03,.28],[2.08,.2],[2.12,.18],[2.17,.19],[2.22,.22],[1.89,.17],[1.97,.14],[1.8,.4],[1.85,.42],[1.9,.41],[1.96,.43],[2,.42],[2.06,.37],[2.1,.43],[1.79,.48],[1.83,.46],[1.89,.48],[1.95,.46],[1.99,.46],[2.04,.42],[1.84,.52],[1.88,.5],[1.92,.52],[1.97,.55],[2.01,.6],[1.76,.57],[1.8,.56],[2.19,.46],[2.22,.42],[2.17,.49],[2.21,.5]];
const gLow = [[1.18,2.14],[1.29,1.52],[.77,1.33],[.71,1.055],[.74,1.04],[.93,.925],[.95,.86],[.79,.825],[.83,.815],[.98,.75],[1.05,.76],[.94,.72],[.77,.72],[1.2,.725],[1.26,.7],[.78,.67],[1.14,.65],[1.28,.625],[.84,.635],[.97,.635],[.88,.6],[.96,.6],[1.02,.585],[.78,.555],[.85,.555],[.73,.515],[.81,.52],[.88,.52],[1.17,.525],[1.12,.49],[1,.5],[1.28,.5],[.72,.47],[.73,.435],[1.28,.455],[1.09,.45],[1.23,.43],[1.3,.41],[.83,.39],[.91,.405],[1,.39],[1.12,.38],[1.17,.355],[.72,.35],[.81,.335],[1.25,.355],[.92,.345],[1.05,.33],[1.29,.31],[.88,.3],[.99,.295],[1.09,.31],[1.17,.285],[.72,.28],[.94,.26],[1.04,.26],[.77,.235],[.74,.21],[.8,.18],[.86,.225],[.99,.21],[1.07,.225],[1.18,.21],[1.26,.21],[1.23,.17],[.92,.175],[.96,.145],[1.04,.18],[1.09,.145]];
const gLowFill = [[.77,.2],[.82,.21],[.9,.2],[.94,.18],[1.02,.2],[1.12,.21],[1.14,.19],[1.18,.17],[.97,.25],[1.02,.28],[1.08,.27],[1.13,.28],[1.21,.29],[1.24,.27],[.94,.31],[.98,.34],[1.04,.3],[1.1,.36],[1.15,.33],[1.2,.36],[1.23,.35],[.85,.37],[.89,.36],[.95,.38],[1.02,.35],[1.07,.4],[1.16,.42],[1.2,.4],[1.27,.42],[.83,.5],[.87,.43],[.94,.47],[.99,.45],[1.04,.47],[1.14,.52],[1.24,.39],[.77,.49],[.98,.56],[1,.6],[.95,.62],[.87,.55]];
const gHigh = [[2.28,2.09],[1.89,2.035],[2.11,2.07],[1.7,1.94],[1.75,1.875],[1.98,1.9],[2.25,1.855],[2.26,1.77],[2.19,1.75],[1.81,1.715],[2.23,1.67],[2.1,1.6],[1.97,1.505],[1.97,1.48],[1.79,1.435],[1.73,1.39],[1.8,1.36],[2.03,1.39],[1.88,1.35],[1.9,1.33],[2.22,1.325],[1.81,1.24],[1.8,1.155],[2.11,1.125],[2.1,1.08],[1.76,1.08],[1.79,1.02],[1.97,1.035],[2.28,1.03],[2.1,.995],[2.19,.985],[2.22,.965],[1.93,.95],[2.2,.92],[2.26,.905],[2.11,.93],[2,.91],[2.07,.895],[1.76,.89],[1.81,.87],[2.05,.825],[2.16,.8],[2.1,.785],[1.8,.79],[1.97,.79],[1.7,.765],[1.73,.775],[1.91,.745],[1.99,.7],[2.09,.7],[1.75,.685],[2.19,.695],[2.27,.68],[2.12,.67],[1.76,.645],[1.83,.64],[1.93,.635],[2.09,.63],[2.23,.66],[1.84,.585],[1.95,.6],[1.75,.555],[2.13,.56],[2.31,.535],[1.73,.5],[1.86,.49],[2,.515],[2.25,.515],[2.11,.5],[1.75,.455],[1.81,.465],[1.92,.455],[2.05,.455],[2.19,.455],[2.28,.455],[1.74,.39],[1.84,.405],[1.97,.405],[2.11,.405],[2.27,.38],[2.21,.355],[1.73,.345],[1.8,.345],[1.91,.345],[2.05,.345],[2.17,.33],[1.71,.275],[1.78,.285],[1.88,.285],[2,.285],[2.1,.285],[2.26,.285],[2.27,.225],[1.74,.185],[1.88,.2],[2.09,.225],[2.19,.225],[2.23,.185],[1.71,.13],[1.77,.145],[1.75,.07],[1.88,.14],[1.96,.14],[2.14,.14],[2.23,.125],[2.3,.15],[2.04,.185]];
const gHighFill = [[1.73,.44],[1.78,.42],[1.84,.44],[1.88,.46],[1.96,.46],[2,.47],[2.03,.42],[2.09,.45],[2.15,.45],[2.22,.47],[2.26,.42],[1.76,.51],[1.8,.5],[1.83,.52],[1.91,.5],[1.97,.51],[2.04,.5],[2.07,.52],[2.14,.52],[2.19,.51],[2.27,.5],[1.75,.36],[1.78,.38],[1.82,.37],[1.87,.38],[1.93,.39],[2.01,.38],[2.07,.39],[2.14,.38],[2.24,.36],[1.72,.31],[1.76,.31],[1.83,.32],[1.88,.33],[1.95,.33],[2,.34],[2.08,.33],[2.13,.34],[2.2,.31],[2.23,.3],[1.74,.24],[1.77,.26],[1.83,.24],[1.85,.29],[1.93,.28],[1.96,.25],[2.03,.28],[2.06,.3],[2.12,.27],[2.15,.26],[2.21,.27],[1.7,.2],[1.76,.2],[1.83,.18],[1.93,.2],[1.98,.21],[2.01,.22],[2.06,.22],[2.12,.19],[2.16,.2],[2.27,.19],[1.74,.15],[1.8,.15],[1.84,.14],[1.92,.15],[2,.15],[2.08,.15],[2.11,.16],[2.19,.14],[2.27,.14],[1.77,.6],[1.86,.56],[1.92,.56],[2.03,.56],[2.09,.57],[2.18,.6],[1.87,.63],[2.17,.65],[2.13,.63]];
const hLow = [[1.03,2.035],[1.14,1.94],[1.26,1.9],[.87,1.875],[.93,1.715],[.83,1.67],[1.19,1.51],[.87,1.43],[.87,1.36],[1.22,1.33],[.98,1.24],[1.11,1.155],[.94,1.08],[1.07,1.08],[.88,1.035],[.81,1.035],[.81,1.02],[1.05,.92],[.86,.87],[1.01,.895],[.96,.825],[.88,.79],[1.22,.79],[1.17,.78],[1.19,.745],[.73,.76],[.73,.69],[.88,.695],[1.06,.69],[1.1,.68],[.76,.68],[.8,.64],[1.06,.635],[1.22,.65],[1.28,.625],[1.15,.63],[.89,.625],[.94,.6],[.73,.575],[.72,.555],[1.11,.565],[.91,.555],[1.2,.525],[1.29,.53],[1,.535],[1.06,.51],[.82,.455],[.89,.48],[1.16,.48],[1.22,.455],[.73,.42],[.94,.425],[1.05,.455],[1.11,.455],[.84,.39],[1.18,.39],[1.25,.39],[.72,.345],[.8,.345],[1.3,.355],[.74,.32],[.86,.33],[.95,.355],[1.08,.365],[1.16,.33],[1.25,.33],[.88,.295],[1,.285],[1.09,.285],[1.17,.26],[1.27,.27],[1.25,.225],[.77,.205],[.9,.235],[.96,.225],[1.09,.225],[.76,.13],[.83,.145],[.82,.195],[.9,.145],[1,.125],[1.07,.15],[1.17,.135],[1.24,.125],[1.23,.175],[.95,.175]];
const hLowFill = [[.75,.2],[.8,.17],[.85,.16],[.87,.2],[.92,.19],[.98,.19],[1.03,.2],[1.06,.2],[1.12,.19],[1.15,.16],[1.2,.17],[.85,.26],[.92,.27],[.96,.27],[1.03,.24],[1.08,.25],[1.13,.22],[1.21,.23],[1.24,.27],[.78,.32],[.83,.36],[.88,.34],[.92,.33],[.98,.34],[1.03,.33],[1.1,.33],[1.13,.36],[1.2,.34],[1.23,.38],[.77,.4],[.84,.44],[.87,.42],[.91,.39],[.97,.42],[1.01,.38],[1.08,.42],[1.14,.43],[1.19,.44],[.85,.48],[.94,.5],[.98,.48],[1.03,.5],[1.1,.52],[1.14,.54],[.96,.53],[1.07,.57]];
const hHigh = [[1.87,2.09],[2.09,2.14],[2.27,2.07],[2.1,1.855],[1.94,1.77],[1.91,1.75],[2.27,1.6],[1.97,1.52],[1.93,1.48],[1.97,1.39],[2.1,1.39],[1.88,1.35],[1.71,1.33],[2.12,1.325],[2.17,1.125],[2,1.055],[2.1,1.03],[1.72,.99],[1.74,.99],[2,.965],[1.81,.95],[1.73,.925],[1.8,.915],[1.84,.905],[1.92,.9],[1.99,.815],[2.02,.82],[1.77,.79],[1.85,.805],[1.95,.805],[1.71,.755],[1.91,.775],[2.28,.76],[1.73,.72],[1.88,.73],[2.16,.725],[2.24,.705],[1.98,.685],[2.08,.66],[2.17,.65],[1.88,.64],[2.23,.63],[1.74,.6],[1.83,.585],[1.95,.6],[2.08,.6],[1.92,.535],[1.73,.5],[1.79,.515],[2.02,.535],[2.24,.52],[1.71,.43],[1.77,.455],[1.83,.42],[1.93,.465],[2.03,.465],[2.15,.455],[2.22,.455],[1.9,.405],[1.99,.405],[2.09,.405],[2.2,.405],[1.73,.33],[1.93,.355],[2.03,.355],[2.13,.345],[2.29,.33],[2.22,.285],[2.27,.295],[1.72,.26],[1.79,.26],[1.86,.285],[1.97,.285],[2.07,.285],[2.16,.26],[2.29,.215],[1.73,.2],[1.84,.215],[1.92,.215],[2.01,.225],[2.12,.225],[2.21,.215],[1.72,.125],[1.72,.07],[1.8,.15],[1.85,.16],[1.97,.15],[2.04,.125],[2.16,.125],[2.29,.14],[2.1,.16]];
const hHighFill = [[1.72,.46],[1.75,.42],[1.78,.48],[1.8,.42],[1.85,.47],[1.89,.5],[1.96,.46],[2,.48],[2.04,.42],[2.11,.45],[2.17,.48],[2.2,.46],[1.76,.38],[1.81,.36],[1.85,.38],[1.89,.36],[1.97,.38],[2.01,.37],[2.07,.36],[2.11,.37],[2.17,.36],[2.23,.37],[1.83,.3],[1.88,.31],[1.93,.3],[1.97,.33],[2.01,.3],[2.06,.33],[2.1,.31],[2.15,.32],[2.19,.33],[2.25,.28],[1.75,.24],[1.8,.22],[1.87,.23],[1.93,.25],[1.98,.23],[2.03,.27],[2.08,.23],[2.14,.22],[2.18,.2],[1.8,.17],[1.88,.18],[1.95,.19],[2,.17],[2.07,.18],[2.14,.18],[1.9,.55],[1.96,.55],[2.03,.57],[2,.65],[1.96,.67],[1.92,.63],[2.12,.6],[2.16,.58]];

// [mean, mean - sd, mean + sd]
const bStats = [[.436,.145,.725],[.58,.155,1.005]];
const cStats = [[.47,.125,.815],[.57,.14,.995]];
const dStats = [[.435,.15,.72],[.6,.15,1.05]];
const eStats = [[.358,.145,.575],[.545,.14,.945]];
const fStats = [[.45,.13,.77],[.55,.165,.935]];
const gStats = [[.445,.16,.725],[.55,.13,.97]];
const hStats = [[.5,.12,.885],[.525,.14,.91]];

const panels = [
  { id: "B", title: "TNM\u2212stage", sig: "**", groups: ["Stage I", "Stage II&III&IV"], low: [...bLow, ...bLowFill], high: [...bHigh, ...bHighFill], stats: bStats, left: 1092, right: 1447, top: 92.7, bottom: 445.7, letter: [1023, 70], titleAt: [1270, 76], big: true, labelGap: 9 },
  { id: "C", title: "Tumor status", sig: "*", groups: ["tumor free", "with tumor"], low: [...cLow, ...cLowFill], high: [...cHigh, ...cHighFill], stats: cStats, left: 66.7, right: 380, top: 610, bottom: 933.3, letter: [3, 591], titleAt: [224, 596], labelGap: 7 },
  { id: "D", title: "T\u2212stage", sig: "**", groups: ["T1", "T2&T3&T4"], low: [...dLow, ...dLowFill], high: [...dHigh, ...dHighFill], stats: dStats, left: 500.7, right: 815, top: 619.3, bottom: 941.7, letter: [434, 591], titleAt: [657, 605], labelGap: 7 },
  { id: "E", title: "Grade", sig: "***", groups: ["G1", "G2&G3%G4"], low: [...eLow, ...eLowFill], high: [...eHigh, ...eHighFill], stats: eStats, left: 916.7, right: 1231, top: 619.3, bottom: 941.7, letter: [857, 591], titleAt: [1074, 605], labelGap: 7 },
  { id: "F", title: "Vasular\u2212invasion", sig: "*", groups: ["No", "Yes"], low: [...fLow, ...fLowFill], high: [...fHigh, ...fHighFill], stats: fStats, left: 63.3, right: 377, top: 997.7, bottom: 1320, letter: [3, 975], titleAt: [220, 983], labelGap: 7 },
  { id: "G", title: "Gender", sig: "0.1", groups: ["female", "male"], low: [...gLow, ...gLowFill], high: [...gHigh, ...gHighFill], stats: gStats, left: 497.3, right: 811.7, top: 1006.7, bottom: 1329, letter: [430, 977], titleAt: [654, 992], labelGap: 4 },
  { id: "H", title: "Age", sig: "0.29", groups: ["<60", ">=60"], low: [...hLow, ...hLowFill], high: [...hHigh, ...hHighFill], stats: hStats, left: 913.3, right: 1227.7, top: 1006.7, bottom: 1329, letter: [847, 977], titleAt: [1070, 992], labelGap: 4 },
];

const legendsTop = [
  { title: "Grade**", labels: ["G1", "G2", "G3", "G4", "unknonwn"], colors: gradeColors, x: 91 },
  { title: "stage", labels: ["Stage I", "Stage II", "Stage III", "Stage IV", "unknonwn"], colors: stageColors, x: 234 },
  { title: "M", labels: ["M0", "M1", "unknonwn"], colors: mColors, x: 378 },
  { title: "N", labels: ["N0", "N1", "unknown"], colors: nColors, x: 521 },
  { title: "T", labels: ["T1", "T2", "T3", "T4", "unknonwn"], colors: tColors, x: 653 },
  { title: "Tumor status", labels: ["tumor free", "unknown", "with tumor"], colors: statusColors, x: 797 },
];
const legendsBottom = [
  { title: "vasular_invasion*", labels: ["No", "Unknown", "Yes"], colors: vascColors, x: 91 },
  { title: "Gender", labels: ["female", "male"], colors: genderColors, x: 284 },
  { title: "Age", labels: ["<60", ">=60"], colors: ageColors, x: 395 },
  { title: "Risk", labels: ["low", "high"], colors: riskColors, x: 493 },
];

const AXIS_W = 80;
const Y_DOMAIN = [-0.036, 2.308];

const Heatmap = () => (
  <div style={{ position: "absolute", left: 9, top: 38 }}>
    <BarChart
      width={1010}
      height={280}
      layout="vertical"
      data={heatRows}
      barCategoryGap={2}
      margin={{ top: 0, right: 0, bottom: 0, left: 0 }}
    >
      <XAxis type="number" hide domain={[0, 370]} />
      <YAxis
        type="category"
        dataKey="track"
        orientation="right"
        width={210}
        interval={0}
        axisLine={false}
        tickLine={false}
        tickMargin={1}
        tick={{ fontSize: 24, fill: "#111", fontFamily: FONT }}
      />
      {Array.from({ length: maxRuns }).map((_, i) => (
        <Bar key={i} dataKey={`r${i}`} stackId="h" isAnimationActive={false}>
          {tracks.map((t) => {
            const run = t.runs[i];
            const c = run ? t.colors[run[0]] : "none";
            return <Cell key={t.name} fill={c} stroke={c} strokeWidth={0.4} />;
          })}
        </Bar>
      ))}
    </BarChart>
  </div>
);

const LegendGroup = ({ g, titleY, itemY }: any) => (
  <>
    <div style={{ position: "absolute", left: g.x - 1, top: titleY - 12, fontWeight: "bold", fontSize: 20, lineHeight: "24px", color: "#111", whiteSpace: "nowrap" }}>
      {g.title}
    </div>
    {g.labels.map((label: string, i: number) => (
      <div key={label} style={{ position: "absolute", left: g.x, top: itemY + i * 21 }}>
        <div style={{ width: 22, height: 20, background: g.colors[i] }} />
        <div style={{ position: "absolute", left: 28, top: -3, fontSize: 20, lineHeight: "24px", color: "#222", whiteSpace: "nowrap" }}>
          {label}
        </div>
      </div>
    ))}
  </>
);

const Dot = (props: any) => <circle cx={props.cx} cy={props.cy} r={5} fill={props.fill} />;
const NoDot = () => <g />;

const Panel = ({ p }: any) => {
  const plotW = p.right - p.left;
  const plotH = p.bottom - p.top;
  const width = plotW + AXIS_W + 8;
  const height = plotH + 30 + 40;
  const ink = "#000";
  const tick = { fontSize: p.big ? 18.4 : 18, fill: "#1a1a1a", fontFamily: FONT };
  // drawn as line series so they stay on top of the points
  const seg = (x1: number, y1: number, x2: number, y2: number, w: number, key: string) => (
    <Scatter
      key={key}
      data={[{ x: x1, y: y1 }, { x: x2, y: y2 }]}
      line={{ stroke: ink, strokeWidth: w }}
      shape={NoDot}
      isAnimationActive={false}
    />
  );
  return (
    <div style={{ position: "absolute", left: p.left - AXIS_W, top: p.top - 30 }}>
      <ScatterChart width={width} height={height} margin={{ top: 30, right: 8, bottom: 0, left: 0 }}>
        <XAxis
          type="number"
          dataKey="x"
          domain={[0.4, 2.6]}
          ticks={[1, 2]}
          tickFormatter={(v: number) => p.groups[v - 1]}
          height={40}
          allowDataOverflow
          stroke={ink}
          strokeWidth={1.8}
          tickSize={7}
          tickMargin={p.labelGap}
          tick={{ ...tick, fontSize: p.big ? 18.4 : 16.5 }}
        />
        <YAxis
          type="number"
          dataKey="y"
          domain={Y_DOMAIN}
          ticks={[0, 0.5, 1, 1.5, 2]}
          tickFormatter={(v: number) => v.toFixed(1)}
          width={AXIS_W}
          allowDataOverflow
          stroke={ink}
          strokeWidth={1.8}
          tickSize={7}
          tickMargin={4}
          tick={tick}
          label={{
            value: "Risk score",
            angle: -90,
            position: "insideLeft",
            offset: p.big ? 18 : 26,
            style: { textAnchor: "middle", fontSize: p.big ? 20.7 : 18.9, fill: "#1a1a1a", fontFamily: FONT },
          }}
        />
        <Scatter data={p.low.map(([x, y]: number[]) => ({ x, y }))} fill={BLUE} shape={Dot} isAnimationActive={false} />
        <Scatter data={p.high.map(([x, y]: number[]) => ({ x, y }))} fill={SALMON} shape={Dot} isAnimationActive={false} />
        {p.stats.map(([mean, lo, hi]: number[], i: number) => {
          const c = i + 1;
          return [
            seg(c, lo, c, hi, 2.2, `v${i}`),
            seg(c - 0.073, hi, c + 0.073, hi, 2.2, `t${i}`),
            seg(c - 0.073, lo, c + 0.073, lo, 2.2, `b${i}`),
            seg(c - 0.175, mean, c + 0.175, mean, 2.2, `m${i}`),
          ];
        })}
        {seg(1, 2.2, 2, 2.2, 1.6, "br")}
        {seg(1, 2.2, 1, 2.155, 1.6, "brl")}
        {seg(2, 2.2, 2, 2.155, 1.6, "brr")}
        <ReferenceDot
          x={1.5}
          y={2.2}
          r={0}
          fillOpacity={0}
          strokeOpacity={0}
          label={{ value: p.sig, position: "top", offset: p.sig.includes("*") ? 0 : 4, style: { fontSize: 13.5, fill: "#222", fontFamily: FONT } }}
        />
      </ScatterChart>
    </div>
  );
};

const PanelLetter = ({ ch, at }: any) => (
  <div style={{ position: "absolute", left: at[0], top: at[1] - 16, fontWeight: "bold", fontSize: 27, lineHeight: "32px", color: "#000" }}>
    {ch}
  </div>
);

export default function App() {
  return (
    <div style={{ position: "absolute", left: 0, top: 0, width: 1448, height: 1355, overflow: "hidden", background: "#fff", fontFamily: FONT }}>
      <PanelLetter ch="A" at={[6, 16]} />
      <Heatmap />
      {legendsTop.map((g) => (
        <LegendGroup key={g.title} g={g} titleY={340} itemY={357.5} />
      ))}
      {legendsBottom.map((g) => (
        <LegendGroup key={g.title} g={g} titleY={489} itemY={506.5} />
      ))}
      {panels.map((p) => (
        <div key={p.id}>
          <PanelLetter ch={p.id} at={p.letter} />
          <div
            style={{
              position: "absolute",
              left: p.titleAt[0],
              top: p.titleAt[1] - 14,
              transform: "translateX(-50%)",
              fontSize: p.big ? 22 : 19,
              lineHeight: "28px",
              color: "#1a1a1a",
              whiteSpace: "nowrap",
            }}
          >
            {p.title}
          </div>
          <Panel p={p} />
        </div>
      ))}
    </div>
  );
}
